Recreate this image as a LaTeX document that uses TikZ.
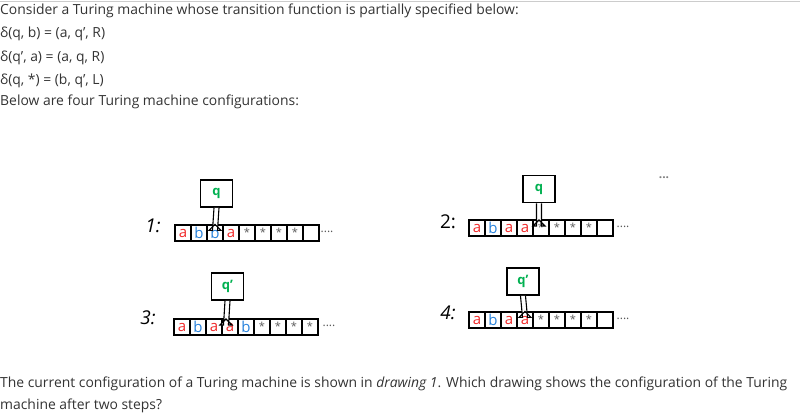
\documentclass[tikz,border=0pt]{standalone}
\usepackage{fontspec}
\setmainfont{Open Sans}
\definecolor{ta}{RGB}{240,40,40}
\definecolor{tb}{RGB}{40,130,220}
\definecolor{tq}{RGB}{0,176,80}
\definecolor{txt}{RGB}{51,51,51}
\tikzset{
 txtnode/.style={anchor=west,inner sep=0pt,text=txt,font=\fontsize{13.9}{16}\selectfont},
 headbox/.style={draw,line width=1.6pt,minimum width=32pt,minimum height=27pt,inner sep=0pt,font=\fontsize{13}{13}\selectfont\bfseries,text=tq},
 cell/.style={draw,line width=1.2pt,minimum width=16pt,minimum height=16pt,inner sep=0pt},
 lab/.style={font=\fontsize{19}{19}\selectfont,inner sep=0pt},
 tdots/.style={font=\fontsize{12}{12}\selectfont,text=gray!70!black}
}
\newcommand{\tapecells}[5]{% name, x, y, list, endx
 \foreach \s [count=\i] in {#4} {
  \node[cell] (#1c\i) at ({#2+16*(\i-1)+8},#3) {};
  \if\s a\node[text=ta,font=\fontsize{15}{15}\selectfont] at (#1c\i) {a};\fi
  \if\s b\node[text=tb,font=\fontsize{15}{15}\selectfont] at (#1c\i) {b};\fi
  \if\s s\node[text=gray!70!black,font=\fontsize{11}{11}\selectfont] at ([yshift=1pt]#1c\i) {*};\fi
 }
 \draw[line width=1.2pt] (#2,{#3-8}) -- (#5,{#3-8}) (#2,{#3+8}) -- (#5,{#3+8});
}
% hollow down arrow: from point (top) to tip
\newcommand{\harrow}[2]{%
 \path (#1) coordinate (hT) (#2) coordinate (hB);
 \draw[line width=1.1pt,line join=miter,fill=white]
  ([xshift=-2.5pt]hT) -- ([xshift=-2.5pt,yshift=-6pt]hB) -- ([xshift=-6pt,yshift=-6pt]hB) -- (hB)
  -- ([xshift=6pt,yshift=-6pt]hB) -- ([xshift=2.5pt,yshift=-6pt]hB) -- ([xshift=2.5pt]hT);
}
\begin{document}
\begin{tikzpicture}[x=1pt,y=-1pt]
\useasboundingbox (0,0) rectangle (812,417);
\draw[gray!40] (0,1.5) -- (800,1.5);
\node[txtnode] (t1) at (0,11) {Consider a Turing machine whose transition function is partially specified below:};
\node[txtnode] (t2) at (0,34) {δ(q, b) = (a, q', R)};
\node[txtnode] (t3) at (0,58) {δ(q', a) = (a, q, R)};
\node[txtnode] (t4) at (0,81) {δ(q, *) = (b, q', L)};
\node[txtnode] (t5) at (0,102) {Below are four Turing machine configurations:};
\node[txtnode] (t6) at (0,384) {The current configuration of a Turing machine is shown in \textit{drawing 1}. Which drawing shows the configuration of the Turing};
\node[txtnode] (t7) at (0,406) {machine after two steps?};
\node[text=gray,font=\fontsize{12}{12}\selectfont\bfseries] (dots) at (664,178) {...};
% 1
\node[lab,font=\fontsize{19}{19}\selectfont\itshape] (l1) at (153,226) {1:};
\tapecells{a}{175}{233}{a,b,b,a,s,s,s,s,n}{317}
\node[headbox] (h1) at (216.5,193.5) {q};
\harrow{h1.south}{ac3.north}
\node[tdots] (d1) at (327,232) {....};
% 2
\node[lab] (l2) at (448,222) {2:};
\tapecells{b}{469}{228}{a,b,a,a,s,s,s,s,n}{613}
\node[headbox] (h2) at (539,189) {q};
\coordinate (p2) at (539,220);
\harrow{h2.south}{p2}
\node[tdots] (d2) at (623,227) {....};
% 3
\node[lab,font=\fontsize{19}{19}\selectfont\itshape] (l3) at (148,318) {3:};
\tapecells{c}{174}{327}{a,b,a,a,b,s,s,s,s}{318}
\node[headbox] (h3) at (227.5,286.5) {q’};
\coordinate (p3) at (226,319);
\harrow{h3.south}{p3}
\node[tdots] (d3) at (329,326) {....};
% 4
\node[lab,font=\fontsize{19}{19}\selectfont\itshape] (l4) at (448,313) {4:};
\tapecells{d}{469}{320}{a,b,a,a,s,s,s,s,n}{613}
\node[headbox] (h4) at (523,281.5) {q’};
\harrow{h4.south}{dc4.north}
\node[tdots] (d4) at (623,319) {....};
\end{tikzpicture}
\end{document}
